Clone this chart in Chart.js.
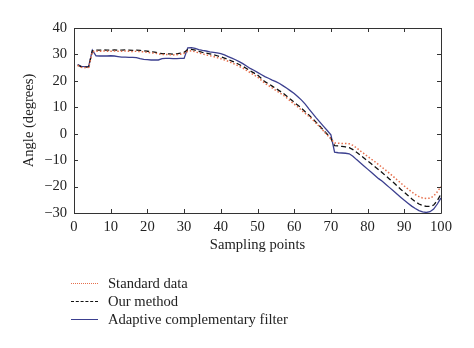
<!DOCTYPE html>
<html>
<head>
<meta charset="utf-8">
<script src="https://cdn.jsdelivr.net/npm/chart.js@4/dist/chart.umd.min.js"></script>
<style>
  html, body { margin: 0; padding: 0; background: #fff; }
  #wrap { position: relative; width: 474px; height: 348px; }
  #legend {
    position: absolute; left: 71px; top: 274px;
    font-family: 'Liberation Serif', serif; font-size: 14.6px; color: #222;
  }
  .row { display: flex; align-items: center; height: 18px; }
  .sample { width: 27px; height: 0; margin-right: 10px; border-top-width: 1.4px; }
</style>
</head>
<body>
<div id="wrap">
  <canvas id="c" width="474" height="348"></canvas>
  <div id="legend"></div>
</div>
<script>
// Sampling points 1..100
const standardData = [
  25.8, 25.1, 25.0, 25.1, 31.0, 31.2, 31.2, 31.3, 31.2, 31.2,
  31.3, 31.2, 31.2, 31.3, 31.2, 31.1, 31.2, 31.1, 31.0, 30.8,
  30.6, 30.5, 30.2, 30.0, 30.0, 29.9, 29.8, 29.9, 30.1, 30.4,
  31.2, 31.4, 31.0, 30.6, 30.2, 29.8, 29.5, 29.2, 28.8, 28.4,
  27.9, 27.4, 26.8, 26.2, 25.5, 24.8, 24.0, 23.1, 22.3, 21.5,
  20.3, 19.1, 18.2, 17.3, 16.4, 15.5, 14.6, 13.5, 12.3, 11.2,
  10.1, 8.9, 7.7, 6.6, 5.3, 3.9, 2.5, 1.0, -0.5, -2.0,
  -3.5, -3.6, -3.7, -3.7, -3.8, -4.4, -5.4, -6.5, -7.5, -8.6,
  -9.6, -10.6, -11.7, -12.8, -13.9, -15.0, -16.2, -17.4, -18.6, -19.8,
  -20.9, -22.0, -23.0, -23.8, -24.3, -24.5, -24.4, -23.6, -22.0, -20.0
];
const ourMethod = [
  26.0, 25.3, 25.2, 25.3, 31.4, 31.6, 31.6, 31.7, 31.6, 31.6,
  31.7, 31.6, 31.6, 31.7, 31.6, 31.5, 31.6, 31.5, 31.4, 31.2,
  31.0, 30.9, 30.5, 30.3, 30.3, 30.2, 30.1, 30.2, 30.5, 30.8,
  31.8, 31.9, 31.6, 31.2, 30.8, 30.5, 30.2, 29.9, 29.5, 29.1,
  28.6, 28.1, 27.5, 26.9, 26.2, 25.5, 24.7, 23.8, 23.0, 22.2,
  21.0, 19.7, 18.9, 18.0, 17.1, 16.2, 15.3, 14.2, 13.0, 11.9,
  10.8, 9.6, 8.3, 7.1, 5.7, 4.3, 2.8, 1.3, -0.2, -1.8,
  -4.5, -4.6, -4.8, -5.0, -5.3, -6.0, -7.0, -8.1, -9.2, -10.3,
  -11.4, -12.5, -13.6, -14.8, -16.0, -17.2, -18.4, -19.7, -21.0, -22.2,
  -23.4, -24.6, -25.7, -26.6, -27.2, -27.5, -27.5, -27.0, -25.3, -22.8
];
const adaptiveFilter = [
  26.2, 25.5, 25.4, 25.5, 31.6, 29.5, 29.4, 29.4, 29.4, 29.5,
  29.4, 29.2, 29.0, 29.0, 28.9, 28.9, 28.8, 28.4, 28.1, 28.0,
  27.9, 27.9, 27.9, 28.4, 28.5, 28.5, 28.4, 28.4, 28.5, 28.5,
  32.5, 32.6, 32.3, 31.8, 31.5, 31.3, 31.0, 30.8, 30.6, 30.3,
  29.8, 29.2, 28.6, 28.0, 27.3, 26.5, 25.6, 24.7, 24.0, 23.2,
  22.4, 21.6, 21.0, 20.3, 19.7, 19.0, 18.1, 17.2, 16.2, 15.2,
  14.0, 12.7, 11.2, 9.4, 7.7, 6.0, 4.4, 2.8, 1.2, -0.4,
  -7.0, -7.2, -7.3, -7.4, -7.6, -8.5, -9.8, -11.0, -12.2, -13.4,
  -14.6, -15.8, -17.0, -18.0, -19.2, -20.4, -21.6, -22.8, -24.0, -25.2,
  -26.3, -27.4, -28.3, -29.1, -29.6, -29.8, -29.5, -28.5, -26.6, -24.3
];

const xTicks = [0, 10, 20, 30, 40, 50, 60, 70, 80, 90, 100];
const yTicks = [-30, -20, -10, 0, 10, 20, 30, 40];

const seriesNames = ['Standard data', 'Our method', 'Adaptive complementary filter'];
const seriesColors = ['#e66f4c', '#111111', '#3b3f8f'];
const seriesDash = [[1.5, 2], [5, 3], []];

const FONT = "'Liberation Serif', serif";
const TEXT = '#222';
const SIZE = 14.6;

const toPoints = arr => arr.map((v, i) => ({ x: i + 1, y: v }));

const datasets = [standardData, ourMethod, adaptiveFilter].map((vals, k) => ({
  label: seriesNames[k],
  data: toPoints(vals),
  borderColor: seriesColors[k],
  borderWidth: k === 0 ? 1.5 : 1.3,
  borderDash: seriesDash[k],
  pointRadius: 0,
  tension: 0,
  fill: false,
  order: k
}));

const fmt = v => (v < 0 ? '\u2212' + Math.abs(v) : String(v));

// frame around the plot area with short inward ticks on every side
const framePlugin = {
  id: 'frame',
  afterDraw(chart) {
    const { ctx, chartArea: a, scales } = chart;
    const len = 4;
    ctx.save();
    ctx.strokeStyle = '#333';
    ctx.lineWidth = 1;
    ctx.beginPath();
    ctx.rect(Math.round(a.left) + 0.5, Math.round(a.top) + 0.5,
             Math.round(a.right - a.left), Math.round(a.bottom - a.top));
    xTicks.forEach(v => {
      const x = Math.round(scales.x.getPixelForValue(v)) + 0.5;
      ctx.moveTo(x, a.bottom); ctx.lineTo(x, a.bottom - len);
      ctx.moveTo(x, a.top); ctx.lineTo(x, a.top + len);
    });
    yTicks.forEach(v => {
      const y = Math.round(scales.y.getPixelForValue(v)) + 0.5;
      ctx.moveTo(a.left, y); ctx.lineTo(a.left + len, y);
      ctx.moveTo(a.right, y); ctx.lineTo(a.right - len, y);
    });
    ctx.stroke();
    ctx.restore();
  }
};

const chart = new Chart(document.getElementById('c'), {
  type: 'line',
  data: { datasets },
  options: {
    responsive: false,
    animation: false,
    layout: { padding: { left: 0, right: 33, top: 28, bottom: 93 } },
    plugins: { legend: { display: false }, tooltip: { enabled: false } },
    scales: {
      x: {
        type: 'linear', min: 0, max: 100,
        afterBuildTicks: s => { s.ticks = xTicks.map(v => ({ value: v })); },
        afterFit: s => { s.height = 42; },
        grid: { display: false, drawTicks: false },
        border: { display: false },
        ticks: { color: TEXT, font: { family: FONT, size: SIZE }, padding: 5, maxRotation: 0, callback: fmt },
        title: { display: true, text: 'Sampling points', color: TEXT,
                 font: { family: FONT, size: SIZE }, padding: { top: 0, bottom: 1 } }
      },
      y: {
        type: 'linear', min: -30, max: 40,
        afterBuildTicks: s => { s.ticks = yTicks.map(v => ({ value: v })); },
        afterFit: s => { s.width = 74; },
        grid: { display: false, drawTicks: false },
        border: { display: false },
        ticks: { color: TEXT, font: { family: FONT, size: SIZE }, padding: 7, callback: fmt },
        title: { display: true, text: 'Angle (degrees)', color: TEXT,
                 font: { family: FONT, size: SIZE }, padding: { top: 20, bottom: 0 } }
      }
    }
  },
  plugins: [framePlugin]
});

// legend rows stacked below the plot
const legend = document.getElementById('legend');
chart.data.datasets.forEach((ds, k) => {
  const row = document.createElement('div');
  row.className = 'row';
  const s = document.createElement('span');
  s.className = 'sample';
  s.style.borderTopStyle = k === 0 ? 'dotted' : (k === 1 ? 'dashed' : 'solid');
  s.style.borderTopColor = seriesColors[k];
  const t = document.createElement('span');
  t.textContent = ds.label;
  row.appendChild(s); row.appendChild(t);
  legend.appendChild(row);
});
</script>
</body>
</html>
